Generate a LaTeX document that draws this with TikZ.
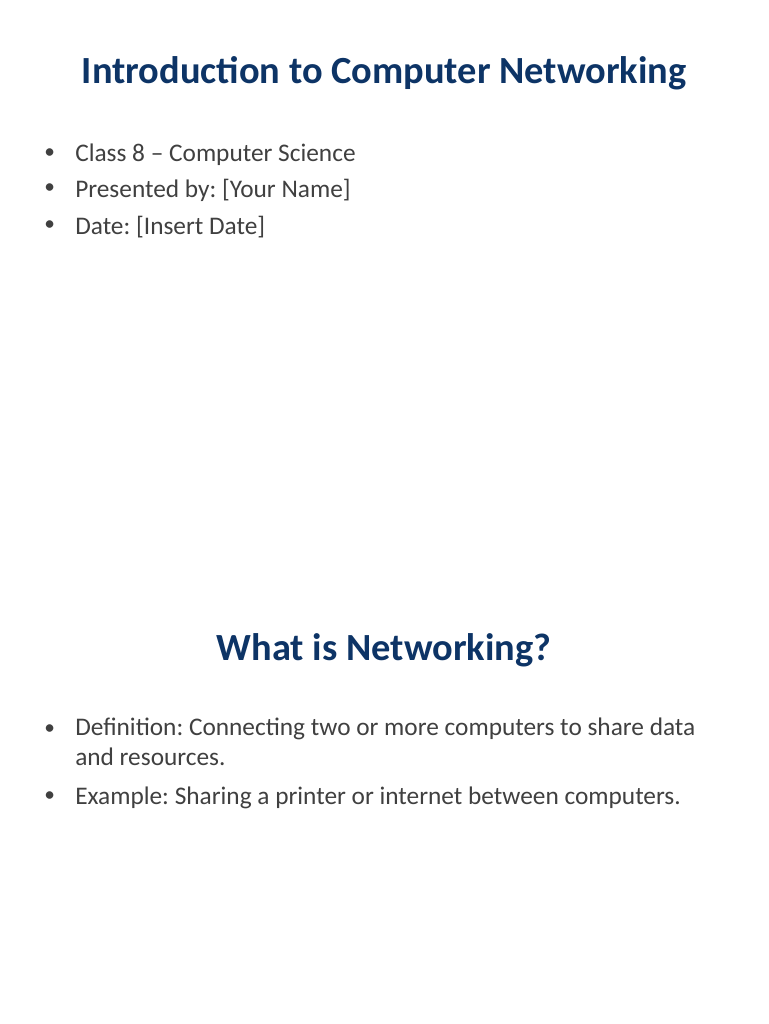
\documentclass[tikz,border=0pt]{standalone}
\usepackage{fontspec}
\setmainfont{Carlito}
\frenchspacing
\definecolor{ttl}{HTML}{0D3466}
\definecolor{txt}{HTML}{404040}
\begin{document}
\begin{tikzpicture}[x=0.75pt,y=-0.75pt,
  ttlstyle/.style={font=\bfseries\fontsize{28.8}{32}\selectfont,text=ttl,inner sep=0},
  bul/.style={font=\fontsize{19}{22.5}\selectfont,text=txt,inner sep=0,anchor=west},
  dot/.style={font=\fontsize{16}{20}\selectfont,text=txt,inner sep=0,anchor=west}]
\useasboundingbox[fill=white] (0,0) rectangle (768,1024);
\node[ttlstyle] (t1) at (384,73) {Introduction to Computer Networking};
\node[dot] (d1) at (44,154) {•};
\node[bul] (b1) at (75,155) {Class 8 – Computer Science};
\node[dot] (d2) at (44,189) {•};
\node[bul] (b2) at (75,190) {Presented by: [Your Name]};
\node[dot] (d3) at (44,226) {•};
\node[bul] (b3) at (75,227) {Date: [Insert Date]};
\node[ttlstyle] (t2) at (384,650) {What is Networking?};
\node[dot] (d4) at (44,730) {•};
\node[bul,anchor=north west,align=left] (b4) at (75,718) {Definition: Connecting two or more computers to share data\\and resources.};
\node[dot] (d5) at (44,797) {•};
\node[bul] (b5) at (75,798) {Example: Sharing a printer or internet between computers.};
\end{tikzpicture}
\end{document}
